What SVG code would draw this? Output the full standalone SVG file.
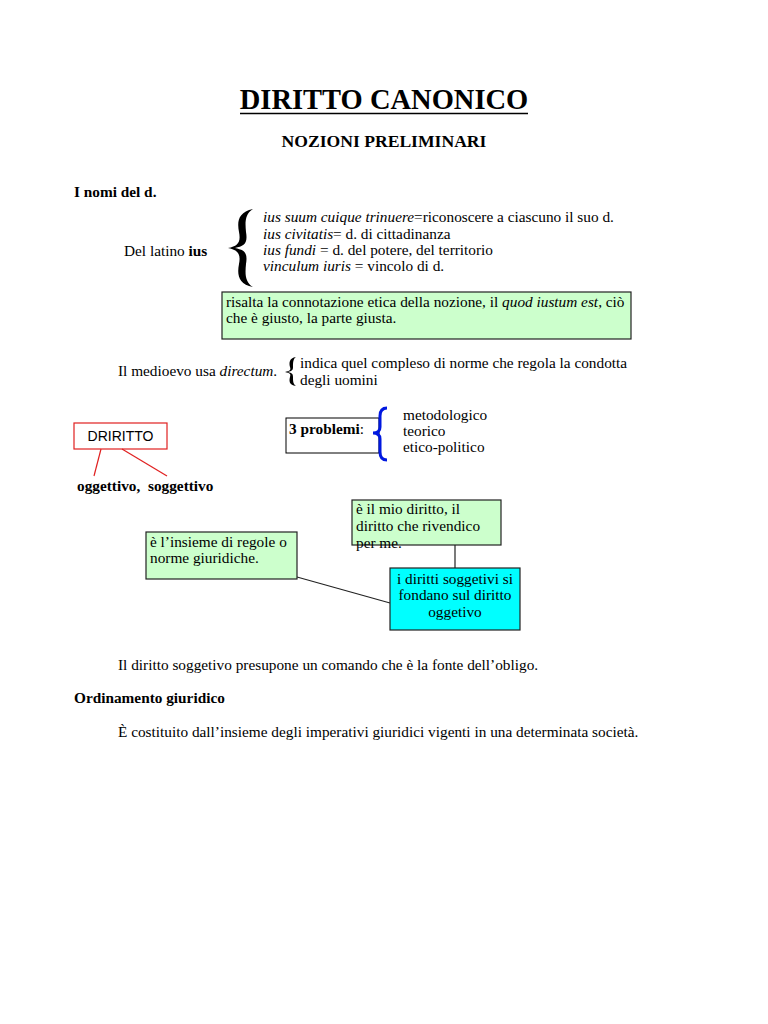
<svg xmlns="http://www.w3.org/2000/svg" width="768" height="1024" viewBox="0 0 768 1024">
<style>
text{font-family:"Liberation Serif","Times New Roman",serif;font-size:15.3px;fill:#000}
.b{font-weight:bold}
.i{font-style:italic}
.sans{font-family:"Liberation Sans",Arial,sans-serif}
.green{fill:#ccffcc;stroke:#222;stroke-width:1.2}
.cyan{fill:#00ffff;stroke:#222;stroke-width:1.2}
.red{stroke:#e02020;stroke-width:1.2;fill:none}
.line{stroke:#222;stroke-width:1.2;fill:none}
</style>
<rect width="768" height="1024" fill="#fff"/>
<g id="title">
<text x="384" y="109" text-anchor="middle" class="b" style="font-size:28.5px">DIRITTO CANONICO</text>
<line x1="240" y1="113.5" x2="528" y2="113.5" stroke="#000" stroke-width="1.6"/>
<text x="384" y="147" text-anchor="middle" class="b" style="font-size:17.6px">NOZIONI PRELIMINARI</text>
</g>
<text x="74" y="197" class="b">I nomi del d.</text>
<g id="ius">
<text x="124" y="256">Del latino <tspan class="b">ius</tspan></text>
<path d="M253,209 C238,212 237,222 239,232 C241,242 238,246 228,248 C238,250 241,254 239,264 C237,274 238,284 253,287 C245,282 245,274 246,264 C248,252 244,250 235,248 C244,246 248,244 246,232 C245,222 245,214 253,209 Z" fill="#000"/>
<text x="263" y="222"><tspan class="i">ius suum cuique trinuere</tspan>=riconoscere a ciascuno il suo d.</text>
<text x="263" y="239"><tspan class="i">ius civitatis</tspan>= d. di cittadinanza</text>
<text x="263" y="255"><tspan class="i">ius fundi</tspan> = d. del potere, del territorio</text>
<text x="263" y="271"><tspan class="i">vinculum iuris</tspan> = vincolo di d.</text>
</g>
<g id="box-etica">
<rect x="222" y="292" width="409" height="47" class="green"/>
<text x="226" y="307">risalta la connotazione etica della nozione, il <tspan class="i">quod iustum est</tspan>, ciò</text>
<text x="226" y="323">che è giusto, la parte giusta.</text>
</g>
<g id="directum">
<text x="118" y="376">Il medioevo usa <tspan class="i">directum</tspan>.</text>
<path d="M296,357 C289,358 289,363 290,367 C291,370 290,371 285,372 C290,373 291,374 290,377 C289,381 289,385 296,386 C293,384 293,381 293,377 C293,374 292,373 288,372 C292,371 293,370 293,367 C293,363 293,359 296,357 Z" fill="#000"/>
<text x="300" y="368">indica quel compleso di norme che regola la condotta</text>
<text x="300" y="385">degli uomini</text>
</g>
<g id="dritto">
<rect x="74" y="423" width="93" height="26" fill="#fff" stroke="#e02020" stroke-width="1.2"/>
<text x="120.5" y="441" text-anchor="middle" class="sans" style="font-size:14px">DRIRITTO</text>
</g>
<g id="problemi">
<rect x="286" y="418" width="93" height="35" fill="#fff" stroke="#000" stroke-width="1"/>
<text x="289" y="434"><tspan class="b">3 problemi</tspan>:</text>
<path d="M387,408 Q380,408 380,416 L380,427 Q380,433 373,433 Q380,433 380,439 L380,452 Q380,460 387,460" fill="none" stroke="#0018e0" stroke-width="3"/>
<text x="403" y="420">metodologico</text>
<text x="403" y="436">teorico</text>
<text x="403" y="452">etico-politico</text>
</g>
<text x="77" y="491" class="b" xml:space="preserve">oggettivo,  soggettivo</text>
<g id="connectors">
<line x1="101" y1="449" x2="94" y2="476" class="red"/>
<line x1="122" y1="449" x2="167" y2="476" class="red"/>
<line x1="297" y1="577" x2="390" y2="603" class="line"/>
<line x1="455" y1="545" x2="455" y2="568" class="line"/>
</g>
<g id="box-mio">
<rect x="352" y="500" width="149" height="45" class="green"/>
<text x="356" y="514">è il mio diritto, il</text>
<text x="356" y="531">diritto che rivendico</text>
<text x="356" y="548">per me.</text>
</g>
<g id="box-insieme">
<rect x="146" y="532" width="151" height="47" class="green"/>
<text x="150" y="547">è l’insieme di regole o</text>
<text x="150" y="563">norme giuridiche.</text>
</g>
<g id="box-soggettivi">
<rect x="390" y="568" width="130" height="62" class="cyan"/>
<text x="455" y="584" text-anchor="middle">i diritti soggetivi si</text>
<text x="455" y="600" text-anchor="middle">fondano sul diritto</text>
<text x="455" y="617" text-anchor="middle">oggetivo</text>
</g>
<text x="118" y="670">Il diritto soggetivo presupone un comando che è la fonte dell’obligo.</text>
<text x="74" y="703" class="b">Ordinamento giuridico</text>
<text x="118" y="737">È costituito dall’insieme degli imperativi giuridici vigenti in una determinata società.</text>
</svg>
